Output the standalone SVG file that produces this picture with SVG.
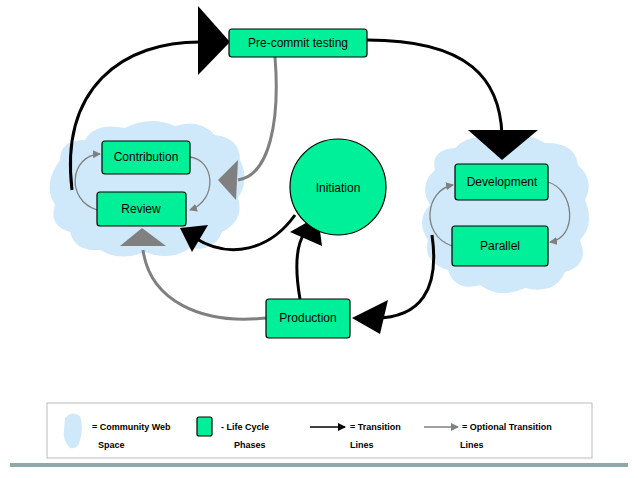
<svg xmlns="http://www.w3.org/2000/svg" width="638" height="478" viewBox="0 0 638 478">
<style>
.box{fill:#00f09a;stroke:#000;stroke-width:1.2}
.t{font-family:"Liberation Sans",Arial,sans-serif;font-size:12px;fill:#000;text-anchor:middle}
.lt{font-family:"Liberation Sans",Arial,sans-serif;font-size:9px;font-weight:bold;fill:#000}
.cloud{fill:#cfe9fb}
.bk{fill:none;stroke:#000;stroke-width:3}
.gr{fill:none;stroke:#808080;stroke-width:3}
.gt{fill:none;stroke:#808080;stroke-width:1.3}
</style>
<defs>
<marker id="ag" markerWidth="8" markerHeight="8" refX="7" refY="4" orient="auto" markerUnits="userSpaceOnUse"><path d="M0,0 L8,4 L0,8 Z" fill="#808080"/></marker>
<marker id="ab" markerWidth="8" markerHeight="8" refX="7" refY="4" orient="auto" markerUnits="userSpaceOnUse"><path d="M0,0 L8,4 L0,8 Z" fill="#000"/></marker>
</defs>
<rect width="638" height="478" fill="#fff"/>
<g id="cloud-left"><path class="cloud" d="M60,160 Q60,140 85,140 Q95,122 125,128 Q150,115 175,126 Q200,118 215,135 Q240,138 240,160 Q250,180 238,198 Q245,220 222,232 Q215,252 190,248 Q170,262 145,252 Q120,262 100,250 Q75,252 70,232 Q48,225 55,205 Q42,185 60,160 Z"/></g>
<g id="cloud-right"><path class="cloud" d="M435,170 Q430,150 455,148 Q470,132 500,140 Q525,130 545,143 Q575,142 578,165 Q595,180 585,200 Q595,225 580,240 Q590,265 565,272 Q555,295 525,288 Q500,300 480,285 Q455,292 448,270 Q422,262 428,240 Q415,220 430,205 Q418,185 435,170 Z"/></g>
<g id="connectors">
<path class="bk" d="M72,190 C60,90 120,40 205,42"/>
<polygon points="198,6 230,42 198,75" fill="#000"/>
<path class="bk" d="M367,40 C470,40 500,80 502,135"/>
<polygon points="468,130 538,130 502,160" fill="#000"/>
<path class="bk" d="M432,235 C440,290 420,318 375,318"/>
<polygon points="352,318 388,300 380,334" fill="#000"/>
<path class="bk" d="M300,299 C295,270 296,245 305,232"/>
<polygon points="318,216 290,232 322,246" fill="#000"/>
<path class="bk" d="M295,215 C270,250 230,260 195,238"/>
<polygon points="180,228 208,225 192,252" fill="#000"/>
<path class="gr" d="M275,57 C280,120 270,175 238,180"/>
<polygon points="218,180 238,160 236,200" fill="#808080"/>
<path class="gr" d="M266,318 C200,325 150,300 143,250"/>
<polygon points="120,246 142,228 166,246" fill="#808080"/>
<path class="gt" d="M190,157 C215,160 218,200 190,210" marker-end="url(#ag)"/>
<path class="gt" d="M97,210 C65,200 70,155 100,154" marker-end="url(#ag)"/>
<path class="gt" d="M548,182 C575,190 578,238 550,242" marker-end="url(#ag)"/>
<path class="gt" d="M452,246 C420,235 425,190 453,185" marker-end="url(#ag)"/>
</g>
<g id="precommit"><rect class="box" x="229" y="29" width="138" height="28" rx="3"/><text class="t" x="298" y="47">Pre-commit testing</text></g>
<g id="contribution"><rect class="box" x="102" y="141" width="88" height="33" rx="3"/><text class="t" x="146" y="161">Contribution</text></g>
<g id="review"><rect class="box" x="97" y="192" width="89" height="34" rx="3"/><text class="t" x="141" y="213">Review</text></g>
<g id="initiation"><circle cx="338" cy="187" r="48" fill="#00f09a" stroke="#000" stroke-width="1.2"/><text class="t" x="338" y="192">Initiation</text></g>
<g id="development"><rect class="box" x="455" y="164" width="93" height="36" rx="3"/><text class="t" x="502" y="186">Development</text></g>
<g id="parallel"><rect class="box" x="452" y="226" width="96" height="40" rx="3"/><text class="t" x="500" y="250">Parallel</text></g>
<g id="production"><rect class="box" x="266" y="299" width="84" height="39" rx="3"/><text class="t" x="308" y="322">Production</text></g>
<g id="legend">
<rect x="47" y="403" width="545" height="55" fill="#fff" stroke="#bbb" stroke-width="1"/>
<path class="cloud" d="M65,418 Q72,410 80,416 Q84,428 80,440 Q78,450 70,448 Q62,440 64,430 Z"/>
<text class="lt" x="92" y="430">= Community Web</text><text class="lt" x="98" y="448">Space</text>
<rect x="197" y="417" width="15" height="19" rx="2" fill="#00f09a" stroke="#000" stroke-width="1.2"/>
<text class="lt" x="221" y="430">-  Life Cycle</text><text class="lt" x="234" y="448">Phases</text>
<line x1="310" y1="427" x2="345" y2="427" stroke="#000" stroke-width="1.5" marker-end="url(#ab)"/>
<text class="lt" x="350" y="430">= Transition</text><text class="lt" x="350" y="448">Lines</text>
<line x1="424" y1="427" x2="458" y2="427" stroke="#808080" stroke-width="1.5" marker-end="url(#ag)"/>
<text class="lt" x="462" y="430">= Optional Transition</text><text class="lt" x="460" y="448">Lines</text>
</g>
<rect x="10" y="463" width="618" height="4" fill="#8fa9a9"/>
</svg>
